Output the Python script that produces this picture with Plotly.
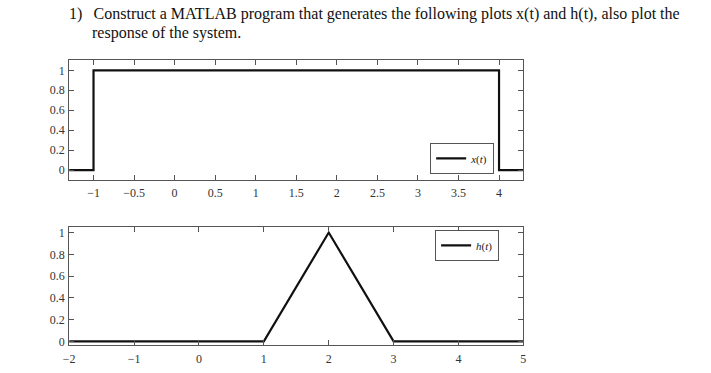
import plotly.graph_objects as go

# data
x_t = [-1.3, -1, -1, 4, 4, 4.3]
x_val = [0, 0, 1, 1, 0, 0]
h_t = [-2, 1, 2, 3, 5]
h_val = [0, 0, 1, 0, 0]

top_xticks = [-1, -0.5, 0, 0.5, 1, 1.5, 2, 2.5, 3, 3.5, 4]
top_xlabels = ["\u22121", "\u22120.5", "0", "0.5", "1", "1.5", "2", "2.5", "3", "3.5", "4"]
bot_xticks = [-2, -1, 0, 1, 2, 3, 4, 5]
bot_xlabels = ["\u22122", "\u22121", "0", "1", "2", "3", "4", "5"]
yticks = [0, 0.2, 0.4, 0.6, 0.8, 1]
ylabels = ["0", "0.2", "0.4", "0.6", "0.8", "1"]

title1 = "1)\u00a0\u00a0\u2009Construct a MATLAB program that generates the following plots x(t) and h(t), also plot the"
title2 = "response of the system."

W, H = 711, 373
serif = "Liberation Serif"
axcol = "#555"
tickfont = dict(family=serif, size=12, color="#333")

fig = go.Figure()
fig.add_trace(go.Scatter(x=x_t, y=x_val, mode="lines", name="<i>x</i>(<i>t</i>)",
                         line=dict(color="#111", width=2.2), xaxis="x", yaxis="y",
                         legend="legend"))
fig.add_trace(go.Scatter(x=h_t, y=h_val, mode="lines", name="<i>h</i>(<i>t</i>)",
                         line=dict(color="#111", width=2.2), xaxis="x2", yaxis="y2",
                         legend="legend2"))

def px(v):
    return v / W

def py(v):
    return 1 - v / H

common = dict(showline=True, mirror="ticks", linecolor=axcol, linewidth=1,
              ticks="inside", ticklen=5, tickcolor=axcol, tickwidth=1,
              showgrid=False, zeroline=False, tickfont=tickfont, fixedrange=True)

fig.update_layout(
    width=W, height=H,
    margin=dict(l=0, r=0, t=0, b=0),
    paper_bgcolor="white", plot_bgcolor="white",
    showlegend=True,
    xaxis=dict(domain=[px(64), px(524)], range=[-1.3, 4.3], anchor="y",
               tickvals=top_xticks, ticktext=top_xlabels, ticklabelstandoff=2, **common),
    yaxis=dict(domain=[py(181), py(60)], range=[-0.1, 1.1], anchor="x",
               tickvals=yticks, ticktext=ylabels, ticklabelstandoff=1, **common),
    xaxis2=dict(domain=[px(64), px(524)], range=[-2, 5], anchor="y2",
                tickvals=bot_xticks, ticktext=bot_xlabels, ticklabelstandoff=2, **common),
    yaxis2=dict(domain=[py(348), py(228)], range=[-0.036, 1.055], anchor="x2",
                tickvals=yticks, ticktext=ylabels, ticklabelstandoff=1, **common),
    legend=dict(x=px(462), y=py(159), xanchor="center", yanchor="middle",
                bgcolor="white", bordercolor=axcol, borderwidth=1,
                font=dict(family=serif, size=11, color="#222"), itemwidth=30,
                tracegroupgap=0),
    legend2=dict(x=px(467), y=py(247), xanchor="center", yanchor="middle",
                 bgcolor="white", bordercolor=axcol, borderwidth=1,
                 font=dict(family=serif, size=11, color="#222"), itemwidth=30,
                 tracegroupgap=0),
)

tfont = dict(family=serif, size=16, color="#111")
fig.add_annotation(x=px(62), y=py(13.5), xref="paper", yref="paper", text=title1,
                   showarrow=False, xanchor="left", yanchor="middle", align="left",
                   font=tfont)
fig.add_annotation(x=px(85.5), y=py(32.5), xref="paper", yref="paper", text=title2,
                   showarrow=False, xanchor="left", yanchor="middle", align="left",
                   font=tfont)

fig.write_html("out.html", config=dict(displayModeBar=False),
               post_script="document.body.style.margin='0px';")
